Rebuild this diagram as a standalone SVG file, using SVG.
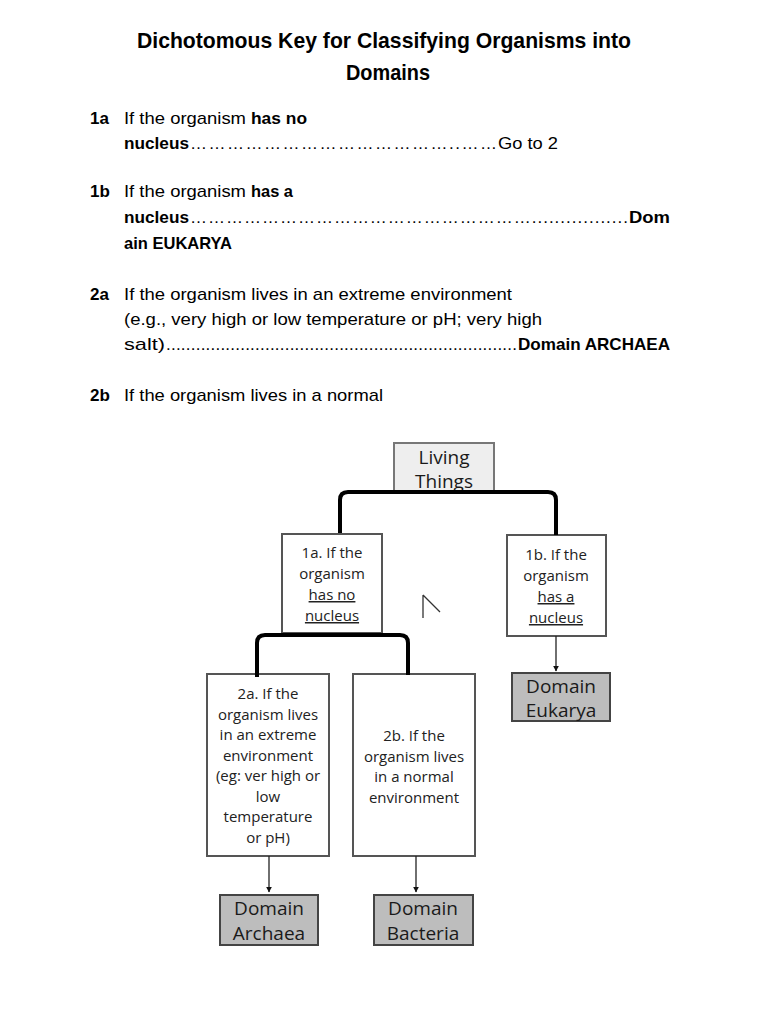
<svg xmlns="http://www.w3.org/2000/svg" width="768" height="1024" viewBox="0 0 768 1024">
<defs>
<style>
.t{font-family:"Liberation Sans",Arial,sans-serif;font-size:17px;fill:#000}
.b{font-weight:bold}
.h{font-family:"Liberation Sans",Arial,sans-serif;font-size:22px;font-weight:bold;fill:#000}
.n{font-family:"Open Sans","Liberation Sans",sans-serif;font-size:15px;fill:#222;text-anchor:middle}
.d{font-family:"Open Sans","Liberation Sans",sans-serif;font-size:19px;fill:#1a1a1a;text-anchor:middle}
.box{fill:#fff;stroke:#555;stroke-width:2}
.dom{fill:#bdbdbd;stroke:#444;stroke-width:2}
.br{fill:none;stroke:#000;stroke-width:4;stroke-linejoin:round}
.ar{fill:none;stroke:#222;stroke-width:1.3;marker-end:url(#ah)}
</style>
<marker id="ah" viewBox="0 0 10 10" refX="9" refY="5" markerWidth="6" markerHeight="6" markerUnits="userSpaceOnUse" orient="auto"><path d="M0,0 L10,5 L0,10 z" fill="#111"/></marker>
</defs>
<rect width="768" height="1024" fill="#fff"/>

<g id="title">
<text class="h" x="137" y="48" textLength="494" lengthAdjust="spacingAndGlyphs">Dichotomous Key for Classifying Organisms into</text>
<text class="h" x="346" y="80" textLength="84" lengthAdjust="spacingAndGlyphs">Domains</text>
</g>

<g id="key">
<text class="t b" x="90" y="124">1a</text>
<text class="t" x="124" y="124" textLength="122" lengthAdjust="spacingAndGlyphs">If the organism</text>
<text class="t b" x="251" y="124" textLength="56" lengthAdjust="spacingAndGlyphs">has no</text>
<text class="t b" x="124" y="149" textLength="65" lengthAdjust="spacingAndGlyphs">nucleus</text>
<text class="t" x="190" y="149" textLength="307" lengthAdjust="spacing">……………………………………..……</text>
<text class="t" x="498" y="149" textLength="60" lengthAdjust="spacingAndGlyphs">Go to 2</text>

<text class="t b" x="90" y="197">1b</text>
<text class="t" x="124" y="197" textLength="122" lengthAdjust="spacingAndGlyphs">If the organism</text>
<text class="t b" x="251" y="197" textLength="42" lengthAdjust="spacingAndGlyphs">has a</text>
<text class="t b" x="124" y="223" textLength="65" lengthAdjust="spacingAndGlyphs">nucleus</text>
<text class="t" x="190" y="223" textLength="438" lengthAdjust="spacing">………………………………………………….................</text>
<text class="t b" x="629" y="223" textLength="41" lengthAdjust="spacingAndGlyphs">Dom</text>
<text class="t b" x="124" y="249" textLength="108" lengthAdjust="spacingAndGlyphs">ain EUKARYA</text>

<text class="t b" x="90" y="300">2a</text>
<text class="t" x="124" y="300" textLength="388" lengthAdjust="spacingAndGlyphs">If the organism lives in an extreme environment</text>
<text class="t" x="124" y="325" textLength="418" lengthAdjust="spacingAndGlyphs">(e.g., very high or low temperature or pH; very high</text>
<text class="t" x="124" y="350" textLength="41" lengthAdjust="spacingAndGlyphs">salt)</text>
<text class="t" x="166" y="350" textLength="351" lengthAdjust="spacing">.......................................................................</text>
<text class="t b" x="518" y="350" textLength="152" lengthAdjust="spacingAndGlyphs">Domain ARCHAEA</text>

<text class="t b" x="90" y="401">2b</text>
<text class="t" x="124" y="401" textLength="259" lengthAdjust="spacingAndGlyphs">If the organism lives in a normal</text>
</g>

<g id="living">
<rect x="394" y="443" width="100" height="49" fill="#eeeeee" stroke="#777" stroke-width="2"/>
<text class="d" x="444" y="464">Living</text>
<text class="d" x="444" y="488">Things</text>
</g>

<g id="n1a">
<rect class="box" x="282" y="534" width="100" height="99"/>
<text class="n" x="332" y="558">1a. If the</text>
<text class="n" x="332" y="579">organism</text>
<text class="n" x="332" y="600" text-decoration="underline">has no</text>
<text class="n" x="332" y="621" text-decoration="underline">nucleus</text>
</g>

<g id="n1b">
<rect class="box" x="507" y="535" width="99" height="101" stroke="#333" stroke-width="3"/>
<text class="n" x="556" y="560">1b. If the</text>
<text class="n" x="556" y="581">organism</text>
<text class="n" x="556" y="602" text-decoration="underline">has a</text>
<text class="n" x="556" y="623" text-decoration="underline">nucleus</text>
</g>

<g id="eukarya">
<rect class="dom" x="512" y="673" width="98" height="48"/>
<text class="d" x="561" y="693">Domain</text>
<text class="d" x="561" y="717">Eukarya</text>
</g>

<g id="n2a">
<rect class="box" x="207" y="674" width="122" height="182"/>
<text class="n" x="268" y="699">2a. If the</text>
<text class="n" x="268" y="719.5">organism lives</text>
<text class="n" x="268" y="740">in an extreme</text>
<text class="n" x="268" y="760.5">environment</text>
<text class="n" x="268" y="781">(eg: ver high or</text>
<text class="n" x="268" y="801.5">low</text>
<text class="n" x="268" y="822">temperature</text>
<text class="n" x="268" y="842.5">or pH)</text>
</g>

<g id="n2b">
<rect class="box" x="353" y="674" width="122" height="182"/>
<text class="n" x="414" y="741">2b. If the</text>
<text class="n" x="414" y="761.5">organism lives</text>
<text class="n" x="414" y="782">in a normal</text>
<text class="n" x="414" y="802.5">environment</text>
</g>

<g id="archaea">
<rect class="dom" x="220" y="895" width="98" height="50"/>
<text class="d" x="269" y="915">Domain</text>
<text class="d" x="269" y="940">Archaea</text>
</g>

<g id="bacteria">
<rect class="dom" x="374" y="895" width="99" height="50"/>
<text class="d" x="423" y="915">Domain</text>
<text class="d" x="423" y="940">Bacteria</text>
</g>

<g id="connectors">
<path class="br" d="M340,533 V500 Q340,492 348,492 H548 Q556,492 556,500 V535"/>
<path class="br" d="M257,677 V643 Q257,635 265,635 H400 Q408,635 408,643 V675"/>
<path class="ar" d="M556,636 V671"/>
<path class="ar" d="M269,856 V892"/>
<path class="ar" d="M416,856 V892"/>
</g>

<g id="cursor">
<path d="M423,595 V618 M423,595 L440,612" fill="none" stroke="#333" stroke-width="1.3"/>
</g>
</svg>
